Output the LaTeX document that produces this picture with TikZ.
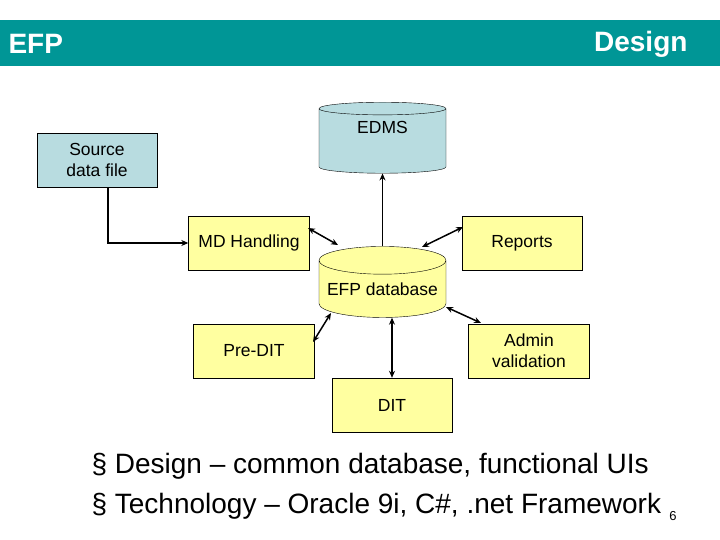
\documentclass[tikz,border=0pt]{standalone}
\usepackage{fontspec}
\setmainfont{Liberation Sans}
\usepackage{tikz}
\usetikzlibrary{shapes.geometric,arrows.meta}
\definecolor{barteal}{RGB}{0,150,150}
\definecolor{boxblue}{RGB}{184,220,224}
\definecolor{boxyellow}{RGB}{255,255,160}
\tikzset{
  box/.style={draw, minimum width=#1, minimum height=54pt, align=center,
    inner sep=0pt, font=\fontsize{17.5}{21}\selectfont},
  box/.default=121pt,
  dbase/.style={cylinder, draw, shape border rotate=90, aspect=0.25,
    align=center, inner sep=0pt, font=\fontsize{17.5}{21}\selectfont},
  link/.style={line width=1.5pt, {Stealth[length=7pt,width=6pt]}-{Stealth[length=7pt,width=6pt]}},
  feed/.style={line width=1.5pt, -{Stealth[length=7pt,width=6pt]}}
}
\begin{document}
\begin{tikzpicture}[x=1pt,y=-1pt]

  \useasboundingbox (0,0) rectangle (720,540);

  %% title bar
  \fill[barteal] (0,20) rectangle (720,66);
  \node[anchor=west, text=white, font=\bfseries\fontsize{28}{32}\selectfont] (title) at (5,44) {EFP};
  \node[anchor=east, text=white, font=\bfseries\fontsize{28}{32}\selectfont] (topic) at (691,44) {Design};

  %% stores
  \node[dbase, fill=boxblue, minimum width=127pt, minimum height=71pt] (edms) at (382.5,141) {EDMS\\[6pt]};
  \node[dbase, fill=boxyellow, minimum width=127pt, minimum height=71pt] (efp) at (382.5,289) {EFP database};

  %% boxes
  \node[box, fill=boxblue, minimum width=120pt] (src) at (97,160) {Source\\data file};
  \node[box, fill=boxyellow] (md) at (249,243) {MD Handling};
  \node[box, fill=boxyellow, minimum width=120pt] (rep) at (522,243) {Reports};
  \node[box, fill=boxyellow] (pre) at (254,351) {Pre-DIT};
  \node[box, fill=boxyellow] (adm) at (529,351) {Admin\\validation};
  \node[box, fill=boxyellow, minimum width=120pt] (dit) at (392,405) {DIT};

  %% connector ends
  \coordinate (md-e) at (308,228);   \coordinate (efp-md) at (338,245);
  \coordinate (rep-e) at (463,227);  \coordinate (efp-rep) at (422,247);
  \coordinate (pre-e) at (313,342);  \coordinate (efp-pre) at (331,313);
  \coordinate (adm-e) at (481,323);  \coordinate (efp-adm) at (446,307);

  %% connectors
  \draw[feed] ([xshift=11pt]src.south) |- (md.west);
  \draw[feed] (efp.top) -- (edms.bottom);
  \draw[link] (md-e) -- (efp-md);
  \draw[link] (rep-e) -- (efp-rep);
  \draw[link] (pre-e) -- (efp-pre);
  \draw[link] (adm-e) -- (efp-adm);
  \draw[link] (dit.north) -- (dit.north |- efp.south);

  %% notes
  \node[anchor=west, font=\fontsize{28}{32}\selectfont] (note1) at (88,466) {§ Design – common database, functional UIs};
  \node[anchor=west, font=\fontsize{28}{32}\selectfont] (note2) at (88,506) {§ Technology – Oracle 9i, C\#, .net Framework};
  \node[font=\fontsize{13}{15}\selectfont] (page) at (673,516) {6};

\end{tikzpicture}
\end{document}
